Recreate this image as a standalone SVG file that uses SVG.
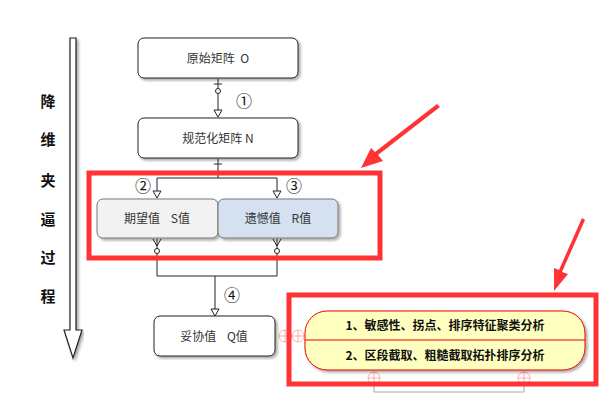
<svg xmlns="http://www.w3.org/2000/svg" width="614" height="413" viewBox="0 0 614 413" xml:space="preserve">
<defs>
<style>
.n{fill:#fff;stroke:#222;stroke-width:1}
.t{font-family:"Noto Sans CJK SC","Liberation Sans",sans-serif;font-size:12px;fill:#333;text-anchor:middle;white-space:pre}
.b{font-family:"Noto Sans CJK SC","Liberation Sans",sans-serif;font-size:12px;font-weight:bold;fill:#111;text-anchor:middle}
.c{fill:none;stroke:#222;stroke-width:1}
.ah{fill:#fff;stroke:#222;stroke-width:1}
.red{fill:none;stroke:#f33;stroke-width:5}
</style>
<filter id="sh"><feDropShadow dx="2" dy="2" stdDeviation="1.5" flood-color="#000" flood-opacity="0.35"/></filter>
</defs>
<rect width="614" height="413" fill="#fff"/>
<g id="axis">
<path d="M70,38 H76 V330 H82 L73,358 L64,330 H70 Z" fill="#fff" stroke="#222" stroke-width="1.2" filter="url(#sh)"/>
<g class="b" style="font-size:15px">
<text x="48" y="107">降</text><text x="48" y="145">维</text><text x="48" y="186">夹</text><text x="48" y="225">逼</text><text x="48" y="263">过</text><text x="48" y="302">程</text>
</g>
</g>
<g id="connectors">
<path class="c" d="M218,79 V110"/>
<path class="ah" d="M214,110 L222,110 L218,117 Z"/>
<circle cx="218" cy="91" r="2.5" fill="#fff" stroke="#222"/>
<path class="c" d="M214,84 H222"/>
<path class="c" d="M218,159 V178 H157 V191 M218,178 H277 V191"/>
<path class="ah" d="M153,191 L161,191 L157,198 Z"/>
<path class="ah" d="M273,191 L281,191 L277,198 Z"/>
<path class="c" d="M214,164 H222"/>
<path class="c" d="M157,239 V276 H277 V239"/>
<path class="c" d="M153,239 L157,246 L161,239 M273,239 L277,246 L281,239"/>
<circle cx="157" cy="251" r="2.5" fill="#fff" stroke="#222"/>
<circle cx="277" cy="251" r="2.5" fill="#fff" stroke="#222"/>
<path class="c" d="M215,276 V309"/>
<path class="ah" d="M211,309 L219,309 L215,316 Z"/>
<g fill="none" stroke="#f99" stroke-width="0.8">
<circle cx="285" cy="336" r="6"/><path d="M279,336 H291 M285,330 V342"/>
<circle cx="298" cy="336" r="6"/><path d="M292,336 H304 M298,330 V342"/>
<circle cx="374" cy="378" r="6"/><path d="M368,378 H380 M374,372 V384"/>
<circle cx="524" cy="378" r="6"/><path d="M518,378 H530 M524,372 V384"/>
</g>
<path d="M374,384 V392 H524 V384" fill="none" stroke="#aaa"/>
<g class="t" style="font-size:16px;fill:#111"><text x="244" y="107">①</text><text x="143" y="192">②</text><text x="294" y="192">③</text><text x="232" y="301">④</text></g>
</g>
<g id="n1"><rect class="n" x="138" y="38" width="160" height="40" rx="6" filter="url(#sh)"/><text class="t" x="218" y="63">原始矩阵  O</text></g>
<g id="n2"><rect class="n" x="138" y="118" width="160" height="40" rx="6" filter="url(#sh)"/><text class="t" x="218" y="143">规范化矩阵 N</text></g>
<g id="n3"><rect x="97" y="199" width="121" height="39" rx="6" fill="#f2f2f2" stroke="#777" filter="url(#sh)"/><text class="t" x="157" y="223">期望值    S值</text></g>
<g id="n4"><rect x="218" y="199" width="120" height="39" rx="6" fill="#d5e0f0" stroke="#777" filter="url(#sh)"/><text class="t" x="278" y="223">遗憾值    R值</text></g>
<g id="n5"><rect class="n" x="154" y="316" width="121" height="40" rx="6" filter="url(#sh)"/><text class="t" x="214" y="341">妥协值    Q值</text></g>
<g id="n6"><rect x="305" y="311" width="280" height="59" rx="22" fill="#ffffc0" stroke="#e00" filter="url(#sh)"/><line x1="305" y1="340" x2="585" y2="340" stroke="#e00"/>
<text class="b" x="445" y="330">1、敏感性、拐点、排序特征聚类分析</text><text class="b" x="445" y="360">2、区段截取、粗糙截取拓扑排序分析</text></g>
<g id="highlights">
<rect class="red" x="89" y="173" width="291" height="85"/>
<rect class="red" x="289" y="295" width="307" height="89"/>
<path d="M440,107 L378,155 L383,161 L361,168 L371,148 L375,152 L437,104 Z" fill="#f33"/>
<path d="M585,220 L562,272 L568,274 L554,291 L554,268 L559,270 L582,218 Z" fill="#f33"/>
</g>
</svg>
